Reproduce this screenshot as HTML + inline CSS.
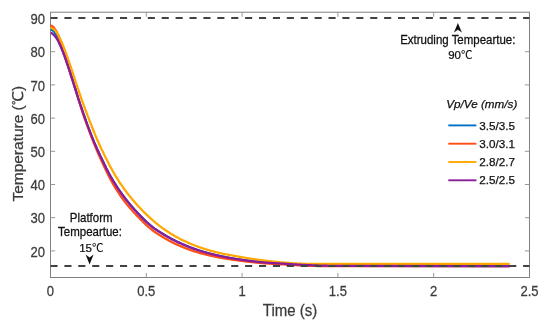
<!DOCTYPE html>
<html><head><meta charset="utf-8"><title>Temperature vs Time</title>
<style>
html,body{margin:0;padding:0;background:#fff;}
svg{display:block}
text{font-family:"Liberation Sans", "WenQuanYi Zen Hei", "Noto Sans CJK SC", sans-serif;}
.tk{font-size:13.6px;fill:#3c3c3c;stroke:#3c3c3c;stroke-width:0.25px;}
.lb{font-size:14.3px;fill:#3c3c3c;stroke:#3c3c3c;stroke-width:0.25px;}
.dc{stroke-width:0.1px;}
.an{font-family:"Liberation Sans", "Noto Sans CJK SC", sans-serif;font-size:11.5px;fill:#111;stroke:#111;stroke-width:0.25px;}
</style></head><body>
<svg width="550" height="328" viewBox="0 0 550 328">
<rect width="550" height="328" fill="#fff"/>
<rect x="50.5" y="12.2" width="479.0" height="265.3" fill="none" stroke="#808080" stroke-width="1"/>
<path d="M146.3,277.5 v-4.6 M146.3,12.2 v4.6 M242.1,277.5 v-4.6 M242.1,12.2 v4.6 M337.9,277.5 v-4.6 M337.9,12.2 v4.6 M433.7,277.5 v-4.6 M433.7,12.2 v4.6 M50.5,250.9 h4.6 M529.5,250.9 h-4.6 M50.5,217.7 h4.6 M529.5,217.7 h-4.6 M50.5,184.5 h4.6 M529.5,184.5 h-4.6 M50.5,151.3 h4.6 M529.5,151.3 h-4.6 M50.5,118.1 h4.6 M529.5,118.1 h-4.6 M50.5,84.9 h4.6 M529.5,84.9 h-4.6 M50.5,51.7 h4.6 M529.5,51.7 h-4.6 M50.5,18.5 h4.6 M529.5,18.5 h-4.6" stroke="#8c8c8c" stroke-width="0.9" fill="none"/>
<text class="tk" transform="translate(50.5,295.8) scale(0.96,1.1)" text-anchor="middle">0</text>
<text class="tk" transform="translate(146.3,295.8) scale(0.96,1.1)" text-anchor="middle">0.5</text>
<text class="tk" transform="translate(242.1,295.8) scale(0.96,1.1)" text-anchor="middle">1</text>
<text class="tk" transform="translate(337.9,295.8) scale(0.96,1.1)" text-anchor="middle">1.5</text>
<text class="tk" transform="translate(433.7,295.8) scale(0.96,1.1)" text-anchor="middle">2</text>
<text class="tk" transform="translate(529.5,295.8) scale(0.96,1.1)" text-anchor="middle">2.5</text>
<text class="tk" transform="translate(45.0,256.5) scale(0.96,1.1)" text-anchor="end">20</text>
<text class="tk" transform="translate(45.0,223.3) scale(0.96,1.1)" text-anchor="end">30</text>
<text class="tk" transform="translate(45.0,190.1) scale(0.96,1.1)" text-anchor="end">40</text>
<text class="tk" transform="translate(45.0,156.9) scale(0.96,1.1)" text-anchor="end">50</text>
<text class="tk" transform="translate(45.0,123.7) scale(0.96,1.1)" text-anchor="end">60</text>
<text class="tk" transform="translate(45.0,90.5) scale(0.96,1.1)" text-anchor="end">70</text>
<text class="tk" transform="translate(45.0,57.3) scale(0.96,1.1)" text-anchor="end">80</text>
<text class="tk" transform="translate(45.0,24.1) scale(0.96,1.1)" text-anchor="end">90</text>
<text class="lb" transform="translate(290,315.6) scale(1,1.04)" style="font-size:15px" text-anchor="middle">Time (s)</text>
<text class="lb" transform="translate(23.2,143.7) rotate(-90) scale(1.047,1)" style="font-size:14.8px" text-anchor="middle">Temperature (℃)</text>
<path d="M50.8,29.49 L51.3,29.68 L51.8,29.94 L52.4,30.26 L52.9,30.64 L53.4,31.08 L54.0,31.58 L54.5,32.29 L55.0,33.06 L55.6,33.89 L56.1,34.81 L56.6,36.01 L57.2,37.25 L57.7,38.53 L58.2,39.80 L58.7,41.07 L59.2,42.38 L59.7,43.72 L60.2,45.02 L60.7,46.21 L61.2,47.43 L61.7,48.69 L62.2,49.94 L62.7,51.18 L63.2,52.44 L63.7,53.73 L64.2,55.04 L64.7,56.38 L65.2,57.73 L65.7,59.11 L66.1,60.50 L66.6,61.91 L67.1,63.34 L67.6,64.78 L68.1,66.23 L68.5,67.69 L69.0,69.17 L69.5,70.65 L70.0,72.15 L70.5,73.65 L70.9,75.15 L71.4,76.67 L71.9,78.19 L72.4,79.71 L72.9,81.23 L73.4,82.76 L73.8,84.29 L74.3,85.82 L74.8,87.35 L75.3,88.88 L75.8,90.41 L76.2,91.93 L76.7,93.46 L77.2,94.98 L77.7,96.49 L78.1,98.01 L78.6,99.51 L79.1,101.02 L79.6,102.51 L80.1,104.01 L80.6,105.49 L81.1,106.97 L81.6,108.44 L82.1,109.90 L82.6,111.36 L83.1,112.80 L83.6,114.24 L84.1,115.67 L84.6,117.09 L85.1,118.50 L85.6,119.91 L86.1,121.30 L86.6,122.68 L87.1,124.05 L87.6,125.42 L88.1,126.77 L88.6,128.11 L89.1,129.44 L89.6,130.76 L90.1,132.08 L90.6,133.37 L91.1,134.66 L91.6,135.94 L92.1,137.21 L92.6,138.46 L93.1,139.71 L93.6,140.94 L94.1,142.16 L94.7,143.38 L95.2,144.58 L95.7,145.76 L96.2,146.94 L96.7,148.11 L97.2,149.26 L97.8,150.41 L98.3,151.54 L98.8,152.67 L99.3,153.78 L99.8,154.88 L100.3,155.97 L100.9,157.05 L101.4,158.11 L101.9,159.17 L102.4,160.22 L102.9,161.26 L103.4,162.28 L103.8,163.30 L104.3,164.30 L104.8,165.30 L105.3,166.28 L105.8,167.26 L106.2,168.22 L106.7,169.17 L107.2,170.12 L107.7,171.05 L108.2,171.98 L108.6,172.89 L109.1,173.80 L109.6,174.70 L110.1,175.58 L110.6,176.46 L111.1,177.33 L111.6,178.19 L112.1,179.04 L112.6,179.88 L113.1,180.72 L113.6,181.54 L114.1,182.36 L114.6,183.17 L115.1,183.97 L115.6,184.76 L116.1,185.54 L116.6,186.31 L117.1,187.08 L117.6,187.84 L118.1,188.59 L118.6,189.33 L119.1,190.07 L119.6,190.79 L120.1,191.51 L120.6,192.23 L121.1,192.93 L121.6,193.63 L122.1,194.32 L122.6,195.01 L123.1,195.68 L123.6,196.35 L124.1,197.02 L124.6,197.67 L125.1,198.32 L125.6,198.97 L126.1,199.60 L126.6,200.24 L127.1,200.86 L127.6,201.48 L128.1,202.09 L128.6,202.71 L129.1,203.33 L129.6,203.94 L130.1,204.54 L130.6,205.14 L131.1,205.73 L131.6,206.31 L132.1,206.89 L132.6,207.47 L133.1,208.04 L133.6,208.60 L134.1,209.16 L134.6,209.71 L135.1,210.26 L135.6,210.80 L136.1,211.34 L136.6,211.87 L137.1,212.40 L137.6,212.93 L138.1,213.45 L138.6,213.99 L139.1,214.53 L139.6,215.06 L140.1,215.59 L140.6,216.11 L141.1,216.63 L141.6,217.15 L142.1,217.66 L142.6,218.16 L143.1,218.66 L143.6,219.16 L144.1,219.65 L144.6,220.14 L145.1,220.63 L145.6,221.11 L146.1,221.58 L146.6,222.03 L147.1,222.47 L147.6,222.92 L148.1,223.35 L148.6,223.79 L149.1,224.22 L149.6,224.65 L150.1,225.07 L150.6,225.49 L151.1,225.90 L151.6,226.32 L152.1,226.73 L152.6,227.13 L153.1,227.52 L153.6,227.88 L154.1,228.23 L154.6,228.59 L155.1,228.93 L155.6,229.28 L156.1,229.62 L156.6,229.95 L157.1,230.29 L157.6,230.62 L158.1,230.94 L158.6,231.27 L159.1,231.59 L159.6,231.91 L160.1,232.22 L160.6,232.53 L161.1,232.84 L161.6,233.15 L162.1,233.45 L162.6,233.75 L163.1,234.05 L163.6,234.36 L164.1,234.67 L164.6,234.97 L165.1,235.27 L165.6,235.57 L166.1,235.86 L166.6,236.15 L167.1,236.44 L167.6,236.73 L168.1,237.01 L168.6,237.29 L169.1,237.57 L169.6,237.85 L170.1,238.12 L170.6,238.39 L171.1,238.66 L171.6,238.93 L172.1,239.19 L172.6,239.45 L173.1,239.71 L173.6,239.97 L174.1,240.22 L174.6,240.47 L175.1,240.72 L175.6,240.97 L176.1,241.21 L176.6,241.45 L177.1,241.69 L177.6,241.93 L178.1,242.17 L178.6,242.40 L179.1,242.63 L179.6,242.86 L180.1,243.09 L180.6,243.32 L181.1,243.55 L181.6,243.77 L182.1,244.00 L182.6,244.22 L183.1,244.44 L183.6,244.65 L184.1,244.87 L184.6,245.08 L185.1,245.29 L185.6,245.50 L186.1,245.71 L186.6,245.92 L187.1,246.12 L187.6,246.32 L188.1,246.52 L188.6,246.72 L189.1,246.92 L189.6,247.11 L190.1,247.30 L190.6,247.49 L191.1,247.68 L191.6,247.87 L192.1,248.05 L192.6,248.24 L193.1,248.42 L193.6,248.60 L194.1,248.78 L194.6,248.95 L195.1,249.13 L195.6,249.30 L196.1,249.47 L196.6,249.64 L197.1,249.81 L197.6,249.98 L198.1,250.14 L198.6,250.31 L199.1,250.47 L199.6,250.63 L200.1,250.79 L200.6,250.95 L201.1,251.10 L201.6,251.26 L202.1,251.41 L202.6,251.56 L203.1,251.71 L203.6,251.86 L204.1,252.01 L204.6,252.15 L205.1,252.30 L205.6,252.44 L206.1,252.58 L206.6,252.72 L207.1,252.86 L207.6,253.00 L208.1,253.13 L208.6,253.27 L209.1,253.40 L209.6,253.53 L210.1,253.66 L210.6,253.79 L211.1,253.92 L211.6,254.05 L212.1,254.17 L212.6,254.30 L213.1,254.42 L213.6,254.54 L214.1,254.67 L214.6,254.79 L215.1,254.90 L215.6,255.02 L216.1,255.14 L216.6,255.25 L217.1,255.37 L217.6,255.48 L218.1,255.59 L218.6,255.70 L219.1,255.81 L219.6,255.92 L220.1,256.03 L220.6,256.14 L221.1,256.24 L221.6,256.35 L222.1,256.45 L222.6,256.56 L223.1,256.66 L223.6,256.76 L224.1,256.86 L224.6,256.96 L225.1,257.06 L225.6,257.15 L226.1,257.25 L226.6,257.34 L227.1,257.44 L227.6,257.53 L228.1,257.62 L228.6,257.72 L229.1,257.81 L229.6,257.90 L230.1,257.99 L230.6,258.07 L231.1,258.16 L231.6,258.25 L232.1,258.34 L232.6,258.42 L233.1,258.50 L233.6,258.59 L234.1,258.67 L234.6,258.75 L235.1,258.83 L235.6,258.92 L236.1,259.00 L236.6,259.07 L237.1,259.15 L237.6,259.23 L238.1,259.31 L238.6,259.38 L239.1,259.46 L239.6,259.53 L240.1,259.61 L240.6,259.68 L241.1,259.76 L241.6,259.83 L242.1,259.90 L242.6,259.97 L243.1,260.04 L243.6,260.11 L244.1,260.18 L244.6,260.25 L245.1,260.32 L245.6,260.38 L246.1,260.45 L246.6,260.52 L247.1,260.58 L247.6,260.65 L248.1,260.71 L248.6,260.78 L249.1,260.84 L249.6,260.90 L250.1,260.97 L250.6,261.03 L251.1,261.09 L251.6,261.15 L252.1,261.21 L252.6,261.27 L253.1,261.33 L253.6,261.39 L254.1,261.45 L254.6,261.51 L255.1,261.57 L255.6,261.62 L256.1,261.68 L256.6,261.74 L257.1,261.79 L257.6,261.85 L258.1,261.90 L258.6,261.96 L259.1,262.01 L259.6,262.06 L260.1,262.12 L260.6,262.17 L261.1,262.22 L261.6,262.27 L262.1,262.32 L262.6,262.36 L263.1,262.40 L263.6,262.44 L264.1,262.47 L264.6,262.51 L265.1,262.55 L265.6,262.58 L266.1,262.62 L266.6,262.66 L267.1,262.69 L267.6,262.73 L268.1,262.76 L268.6,262.79 L269.1,262.83 L269.6,262.86 L270.1,262.90 L270.6,262.93 L271.1,262.96 L271.6,262.99 L272.1,263.02 L272.6,263.06 L273.1,263.09 L273.6,263.12 L274.1,263.15 L274.6,263.18 L275.1,263.21 L275.6,263.24 L276.1,263.27 L276.6,263.29 L277.1,263.32 L277.6,263.35 L278.1,263.38 L278.6,263.41 L279.1,263.43 L279.6,263.46 L280.1,263.49 L280.6,263.51 L281.1,263.54 L281.6,263.56 L282.1,263.59 L282.6,263.61 L283.1,263.64 L283.6,263.66 L284.1,263.69 L284.6,263.71 L285.1,263.74 L285.6,263.77 L286.1,263.81 L286.6,263.84 L287.1,263.88 L287.6,263.91 L288.1,263.95 L288.6,263.98 L289.1,264.02 L289.6,264.05 L290.1,264.09 L290.6,264.12 L291.1,264.15 L291.6,264.18 L292.1,264.22 L292.6,264.25 L293.1,264.28 L293.6,264.31 L294.1,264.34 L294.6,264.37 L295.1,264.40 L295.6,264.43 L296.1,264.46 L296.6,264.49 L297.1,264.52 L297.6,264.55 L298.1,264.58 L298.6,264.61 L299.1,264.64 L299.6,264.67 L300.1,264.69 L300.6,264.72 L301.1,264.75 L301.6,264.78 L302.1,264.80 L302.6,264.83 L303.1,264.85 L303.6,264.88 L304.1,264.90 L304.6,264.93 L305.1,264.95 L305.6,264.98 L306.1,265.00 L306.6,265.03 L307.1,265.05 L307.6,265.07 L308.1,265.10 L308.6,265.12 L309.1,265.14 L309.6,265.16 L310.1,265.19 L310.6,265.21 L311.1,265.23 L311.6,265.25 L312.1,265.27 L312.6,265.29 L313.1,265.31 L313.6,265.33 L314.1,265.35 L314.6,265.37 L315.1,265.39 L315.6,265.41 L316.1,265.42 L316.6,265.44 L317.1,265.46 L317.6,265.48 L318.1,265.49 L318.6,265.51 L319.1,265.53 L319.6,265.54 L320.1,265.56 L320.6,265.57 L321.1,265.59 L321.6,265.60 L322.1,265.62 L322.6,265.63 L323.1,265.64 L323.6,265.66 L324.1,265.67 L324.6,265.68 L325.1,265.70 L325.6,265.71 L326.1,265.72 L326.6,265.73 L327.1,265.74 L327.6,265.75 L328.1,265.76 L328.6,265.77 L329.1,265.78 L329.6,265.79 L330.1,265.80 L330.6,265.81 L331.1,265.82 L331.6,265.83 L332.1,265.83 L332.6,265.84 L333.1,265.85 L333.6,265.85 L334.1,265.86 L334.6,265.86 L335.1,265.87 L335.6,265.87 L336.1,265.88 L336.6,265.88 L337.1,265.88 L337.6,265.89 L338.1,265.89 L338.6,265.89 L339.1,265.89 L339.6,265.89 L340.1,265.89 L340.6,265.89 L341.1,265.89 L341.6,265.89 L342.1,265.89 L342.6,265.89 L343.1,265.89 L343.6,265.89 L344.1,265.89 L344.6,265.89 L345.0,265.89 L509.8,266.00" fill="none" stroke="#0072C8" stroke-width="2.25" stroke-linejoin="round"/>
<path d="M50.6,25.50 L51.1,25.60 L51.6,25.79 L52.1,26.06 L52.6,26.42 L53.1,26.85 L53.6,27.35 L54.1,27.93 L54.6,28.58 L55.1,29.30 L55.6,30.09 L56.1,30.93 L56.6,31.84 L57.1,32.80 L57.6,33.82 L58.1,34.89 L58.6,36.01 L59.1,37.18 L59.5,38.39 L59.9,39.64 L60.2,40.94 L60.5,42.27 L60.8,43.64 L61.1,45.05 L61.5,46.48 L62.0,47.95 L62.4,49.44 L62.8,50.96 L63.2,52.50 L63.8,54.06 L64.4,55.65 L64.9,57.25 L65.5,58.87 L66.1,60.50 L66.6,62.15 L67.2,63.81 L67.8,65.48 L68.3,67.15 L68.9,68.84 L69.5,70.53 L70.0,72.23 L70.6,73.94 L71.1,75.64 L71.7,77.35 L72.2,79.06 L72.7,80.76 L73.3,82.47 L73.8,84.18 L74.4,85.88 L74.9,87.58 L75.4,89.27 L75.9,90.96 L76.5,92.65 L77.0,94.32 L77.5,95.99 L78.0,97.65 L78.5,99.31 L79.0,100.95 L79.5,102.59 L80.0,104.22 L80.5,105.83 L81.0,107.44 L81.5,109.04 L82.0,110.62 L82.5,112.19 L83.0,113.75 L83.6,115.30 L84.1,116.84 L84.6,118.37 L85.2,119.88 L85.7,121.38 L86.2,122.86 L86.7,124.34 L87.3,125.80 L87.8,127.25 L88.3,128.68 L88.9,130.10 L89.4,131.51 L89.9,132.90 L90.4,134.28 L90.9,135.65 L91.4,137.00 L92.0,138.34 L92.5,139.66 L93.0,140.97 L93.5,142.27 L94.0,143.56 L94.6,144.83 L95.1,146.08 L95.6,147.33 L96.1,148.56 L96.6,149.78 L97.1,150.98 L97.6,152.17 L98.1,153.35 L98.6,154.52 L99.1,155.67 L99.6,156.81 L100.2,157.94 L100.7,159.06 L101.2,160.16 L101.7,161.25 L102.2,162.33 L102.7,163.40 L103.2,164.45 L103.7,165.49 L104.2,166.53 L104.6,167.55 L105.1,168.55 L105.6,169.55 L106.0,170.54 L106.5,171.51 L107.0,172.48 L107.5,173.43 L107.9,174.37 L108.4,175.31 L108.9,176.23 L109.3,177.14 L109.8,178.04 L110.3,178.94 L110.7,179.82 L111.2,180.69 L111.7,181.55 L112.2,182.41 L112.6,183.25 L113.1,184.09 L113.6,184.91 L114.1,185.73 L114.5,186.54 L115.0,187.34 L115.5,188.13 L116.0,188.91 L116.5,189.68 L117.0,190.45 L117.4,191.21 L117.9,191.96 L118.4,192.70 L118.9,193.43 L119.4,194.16 L119.9,194.88 L120.3,195.59 L120.8,196.29 L121.3,196.99 L121.8,197.68 L122.3,198.36 L122.8,199.03 L123.3,199.70 L123.7,200.36 L124.2,201.02 L124.7,201.66 L125.2,202.30 L125.7,202.94 L126.2,203.57 L126.7,204.19 L127.3,204.81 L127.8,205.42 L128.3,206.04 L128.8,206.65 L129.3,207.26 L129.8,207.86 L130.3,208.45 L130.9,209.04 L131.4,209.63 L131.9,210.20 L132.4,210.78 L132.9,211.34 L133.4,211.91 L133.9,212.46 L134.4,213.01 L135.0,213.56 L135.5,214.10 L136.0,214.64 L136.5,215.17 L137.0,215.70 L137.5,216.22 L138.0,216.74 L138.5,217.28 L139.1,217.82 L139.6,218.35 L140.1,218.87 L140.6,219.40 L141.1,219.91 L141.6,220.43 L142.1,220.93 L142.6,221.44 L143.1,221.94 L143.6,222.43 L144.1,222.93 L144.6,223.41 L145.1,223.90 L145.6,224.38 L146.1,224.85 L146.6,225.29 L147.1,225.74 L147.6,226.18 L148.1,226.62 L148.6,227.05 L149.1,227.48 L149.6,227.90 L150.1,228.32 L150.6,228.74 L151.1,229.16 L151.6,229.57 L152.1,229.97 L152.6,230.37 L153.1,230.77 L153.6,231.12 L154.1,231.47 L154.6,231.82 L155.1,232.16 L155.6,232.50 L156.1,232.84 L156.6,233.17 L157.1,233.50 L157.6,233.83 L158.1,234.15 L158.6,234.47 L159.1,234.79 L159.6,235.10 L160.1,235.41 L160.6,235.72 L161.1,236.03 L161.6,236.33 L162.1,236.62 L162.6,236.92 L163.1,237.21 L163.6,237.52 L164.1,237.82 L164.6,238.11 L165.1,238.41 L165.6,238.70 L166.1,238.99 L166.6,239.27 L167.1,239.55 L167.6,239.83 L168.1,240.11 L168.6,240.38 L169.1,240.65 L169.6,240.92 L170.1,241.19 L170.6,241.45 L171.1,241.71 L171.6,241.97 L172.1,242.22 L172.6,242.47 L173.1,242.72 L173.6,242.97 L174.1,243.21 L174.6,243.46 L175.1,243.69 L175.6,243.93 L176.1,244.17 L176.6,244.40 L177.1,244.63 L177.6,244.85 L178.1,245.08 L178.6,245.30 L179.1,245.52 L179.6,245.74 L180.1,245.95 L180.6,246.17 L181.1,246.38 L181.6,246.60 L182.1,246.81 L182.6,247.02 L183.1,247.22 L183.6,247.43 L184.1,247.63 L184.6,247.83 L185.1,248.03 L185.6,248.22 L186.1,248.42 L186.6,248.61 L187.1,248.80 L187.6,248.99 L188.1,249.17 L188.6,249.35 L189.1,249.54 L189.6,249.72 L190.1,249.89 L190.6,250.07 L191.1,250.24 L191.6,250.41 L192.1,250.58 L192.6,250.75 L193.1,250.92 L193.6,251.08 L194.1,251.24 L194.6,251.41 L195.1,251.56 L195.6,251.72 L196.1,251.88 L196.6,252.03 L197.1,252.18 L197.6,252.33 L198.1,252.48 L198.6,252.63 L199.1,252.77 L199.6,252.92 L200.1,253.06 L200.6,253.20 L201.1,253.34 L201.6,253.48 L202.1,253.62 L202.6,253.75 L203.1,253.88 L203.6,254.01 L204.1,254.15 L204.6,254.27 L205.1,254.40 L205.6,254.53 L206.1,254.65 L206.6,254.78 L207.1,254.90 L207.6,255.02 L208.1,255.14 L208.6,255.26 L209.1,255.37 L209.6,255.49 L210.1,255.60 L210.6,255.72 L211.1,255.83 L211.6,255.94 L212.1,256.05 L212.6,256.16 L213.1,256.26 L213.6,256.37 L214.1,256.47 L214.6,256.58 L215.1,256.68 L215.6,256.78 L216.1,256.88 L216.6,256.98 L217.1,257.08 L217.6,257.18 L218.1,257.28 L218.6,257.37 L219.1,257.47 L219.6,257.56 L220.1,257.65 L220.6,257.74 L221.1,257.83 L221.6,257.92 L222.1,258.01 L222.6,258.10 L223.1,258.19 L223.6,258.27 L224.1,258.36 L224.6,258.44 L225.1,258.53 L225.6,258.61 L226.1,258.69 L226.6,258.78 L227.1,258.86 L227.6,258.94 L228.1,259.02 L228.6,259.09 L229.1,259.17 L229.6,259.25 L230.1,259.33 L230.6,259.40 L231.1,259.48 L231.6,259.55 L232.1,259.62 L232.6,259.70 L233.1,259.77 L233.6,259.84 L234.1,259.91 L234.6,259.98 L235.1,260.05 L235.6,260.12 L236.1,260.19 L236.6,260.26 L237.1,260.33 L237.6,260.40 L238.1,260.46 L238.6,260.53 L239.1,260.59 L239.6,260.66 L240.1,260.72 L240.6,260.79 L241.1,260.85 L241.6,260.91 L242.1,260.98 L242.6,261.04 L243.1,261.10 L243.6,261.16 L244.1,261.22 L244.6,261.28 L245.1,261.34 L245.6,261.40 L246.1,261.46 L246.6,261.52 L247.1,261.58 L247.6,261.64 L248.1,261.70 L248.6,261.75 L249.1,261.81 L249.6,261.87 L250.1,261.92 L250.6,261.98 L251.1,262.03 L251.6,262.09 L252.1,262.14 L252.6,262.20 L253.1,262.25 L253.6,262.31 L254.1,262.36 L254.6,262.41 L255.1,262.46 L255.6,262.52 L256.1,262.57 L256.6,262.62 L257.1,262.67 L257.6,262.72 L258.1,262.77 L258.6,262.83 L259.1,262.88 L259.6,262.93 L260.1,262.97 L260.6,263.02 L261.1,263.07 L261.6,263.12 L262.1,263.17 L262.6,263.20 L263.1,263.24 L263.6,263.27 L264.1,263.31 L264.6,263.34 L265.1,263.38 L265.6,263.41 L266.1,263.45 L266.6,263.48 L267.1,263.51 L267.6,263.55 L268.1,263.58 L268.6,263.61 L269.1,263.64 L269.6,263.68 L270.1,263.71 L270.6,263.74 L271.1,263.77 L271.6,263.80 L272.1,263.83 L272.6,263.86 L273.1,263.89 L273.6,263.92 L274.1,263.95 L274.6,263.98 L275.1,264.01 L275.6,264.03 L276.1,264.06 L276.6,264.09 L277.1,264.12 L277.6,264.15 L278.1,264.17 L278.6,264.20 L279.1,264.23 L279.6,264.25 L280.1,264.28 L280.6,264.30 L281.1,264.33 L281.6,264.35 L282.1,264.38 L282.6,264.40 L283.1,264.42 L283.6,264.45 L284.1,264.47 L284.6,264.49 L285.1,264.52 L285.6,264.55 L286.1,264.59 L286.6,264.62 L287.1,264.66 L287.6,264.69 L288.1,264.73 L288.6,264.76 L289.1,264.79 L289.6,264.82 L290.1,264.86 L290.6,264.89 L291.1,264.92 L291.6,264.95 L292.1,264.98 L292.6,265.01 L293.1,265.04 L293.6,265.07 L294.1,265.10 L294.6,265.13 L295.1,265.16 L295.6,265.18 L296.1,265.21 L296.6,265.24 L297.1,265.27 L297.6,265.29 L298.1,265.32 L298.6,265.35 L299.1,265.37 L299.6,265.40 L300.1,265.42 L300.6,265.44 L301.1,265.47 L301.6,265.49 L302.1,265.51 L302.6,265.54 L303.1,265.56 L303.6,265.58 L304.1,265.60 L304.6,265.62 L305.1,265.64 L305.6,265.67 L306.1,265.68 L306.6,265.70 L307.1,265.72 L307.6,265.74 L308.1,265.76 L308.6,265.78 L309.1,265.80 L309.6,265.81 L310.1,265.83 L310.6,265.84 L311.1,265.86 L311.6,265.88 L312.1,265.89 L312.6,265.90 L313.1,265.92 L313.6,265.93 L314.1,265.94 L314.6,265.96 L315.1,265.97 L315.6,265.98 L316.1,265.99 L316.6,266.00 L317.1,266.00 L317.6,266.00 L318.1,266.00 L318.6,266.00 L319.1,266.00 L319.6,266.00 L320.1,266.00 L320.6,266.00 L321.1,266.00 L321.6,266.00 L322.1,266.00 L322.6,266.00 L323.1,266.00 L323.6,266.00 L324.1,266.00 L324.6,266.00 L325.1,266.00 L325.6,266.00 L326.1,266.00 L326.6,266.00 L327.1,266.00 L327.6,266.00 L328.1,266.00 L328.6,266.00 L329.1,266.00 L329.6,266.00 L330.1,266.00 L330.6,266.00 L331.1,266.00 L331.6,266.00 L332.1,266.00 L332.6,266.00 L333.1,266.00 L333.6,266.00 L334.1,266.00 L334.6,266.00 L335.1,266.00 L335.6,266.00 L336.1,266.00 L336.6,266.00 L337.1,266.00 L337.6,266.00 L338.1,266.00 L338.6,266.00 L339.1,266.00 L339.6,266.00 L340.0,266.00 L509.8,266.00" fill="none" stroke="#FF4D14" stroke-width="2.25" stroke-linejoin="round"/>
<path d="M50.6,27.90 L51.1,27.91 L51.6,28.00 L52.1,28.16 L52.6,28.38 L53.1,28.68 L53.6,29.04 L54.1,29.47 L54.6,29.95 L55.1,30.50 L55.6,31.10 L56.1,31.76 L56.6,32.48 L57.1,33.24 L57.6,34.05 L58.1,34.91 L58.6,35.82 L59.1,36.76 L59.6,37.75 L60.1,38.78 L60.6,39.85 L61.1,40.95 L61.6,42.08 L62.1,43.25 L62.6,44.45 L63.1,45.67 L63.6,46.93 L64.1,48.21 L64.6,49.51 L65.1,50.83 L65.6,52.18 L66.1,53.54 L66.6,54.92 L67.1,56.32 L67.6,57.73 L68.1,59.16 L68.6,60.60 L69.1,62.05 L69.6,63.52 L70.1,64.99 L70.6,66.47 L71.1,67.95 L71.6,69.44 L72.1,70.94 L72.6,72.44 L73.1,73.95 L73.6,75.46 L74.1,76.97 L74.6,78.48 L75.1,79.99 L75.6,81.50 L76.1,83.01 L76.6,84.51 L77.1,86.02 L77.6,87.52 L78.1,89.01 L78.6,90.51 L79.1,92.00 L79.6,93.48 L80.1,94.96 L80.6,96.43 L81.1,97.90 L81.6,99.36 L82.1,100.81 L82.6,102.25 L83.2,103.69 L83.7,105.12 L84.2,106.54 L84.7,107.95 L85.2,109.35 L85.8,110.75 L86.3,112.13 L86.8,113.51 L87.3,114.87 L87.8,116.23 L88.4,117.57 L88.9,118.91 L89.4,120.24 L89.9,121.55 L90.4,122.86 L90.9,124.15 L91.4,125.44 L91.9,126.71 L92.4,127.98 L92.9,129.23 L93.4,130.47 L93.9,131.71 L94.4,132.93 L94.9,134.14 L95.4,135.34 L95.9,136.53 L96.4,137.71 L96.9,138.88 L97.4,140.03 L97.9,141.18 L98.4,142.32 L98.9,143.45 L99.4,144.56 L99.9,145.67 L100.4,146.76 L100.9,147.85 L101.4,148.92 L101.9,149.99 L102.5,151.04 L103.0,152.09 L103.5,153.12 L104.0,154.15 L104.5,155.16 L105.0,156.17 L105.5,157.17 L106.0,158.15 L106.5,159.13 L107.0,160.10 L107.5,161.06 L107.9,162.01 L108.4,162.95 L108.9,163.88 L109.4,164.80 L109.8,165.71 L110.3,166.62 L110.8,167.52 L111.3,168.40 L111.8,169.28 L112.2,170.15 L112.7,171.02 L113.2,171.87 L113.7,172.72 L114.1,173.56 L114.6,174.39 L115.1,175.21 L115.6,176.02 L116.1,176.83 L116.6,177.63 L117.1,178.42 L117.6,179.21 L118.1,179.99 L118.6,180.76 L119.1,181.52 L119.6,182.28 L120.1,183.02 L120.6,183.77 L121.1,184.50 L121.6,185.23 L122.1,185.95 L122.6,186.67 L123.1,187.38 L123.6,188.08 L124.1,188.78 L124.6,189.47 L125.1,190.15 L125.6,190.83 L126.1,191.50 L126.6,192.16 L127.1,192.82 L127.6,193.48 L128.1,194.12 L128.6,194.77 L129.1,195.40 L129.6,196.03 L130.1,196.66 L130.6,197.28 L131.1,197.89 L131.6,198.50 L132.1,199.10 L132.6,199.70 L133.1,200.29 L133.6,200.88 L134.1,201.46 L134.6,202.04 L135.1,202.61 L135.6,203.18 L136.1,203.74 L136.6,204.30 L137.1,204.85 L137.6,205.40 L138.1,205.95 L138.6,206.48 L139.1,207.02 L139.6,207.55 L140.1,208.07 L140.6,208.61 L141.1,209.13 L141.6,209.65 L142.1,210.17 L142.6,210.68 L143.1,211.19 L143.6,211.70 L144.1,212.20 L144.6,212.69 L145.1,213.18 L145.6,213.67 L146.1,214.16 L146.6,214.64 L147.1,215.11 L147.6,215.58 L148.1,216.05 L148.6,216.51 L149.1,216.97 L149.6,217.43 L150.1,217.88 L150.6,218.34 L151.1,218.79 L151.6,219.24 L152.1,219.68 L152.6,220.12 L153.1,220.56 L153.6,220.99 L154.1,221.42 L154.6,221.85 L155.1,222.27 L155.6,222.69 L156.1,223.10 L156.6,223.52 L157.1,223.92 L157.6,224.33 L158.1,224.73 L158.6,225.13 L159.1,225.52 L159.6,225.92 L160.1,226.30 L160.6,226.69 L161.1,227.07 L161.6,227.45 L162.1,227.82 L162.6,228.18 L163.1,228.54 L163.6,228.89 L164.1,229.24 L164.6,229.58 L165.1,229.93 L165.6,230.27 L166.1,230.60 L166.6,230.94 L167.1,231.27 L167.6,231.60 L168.1,231.92 L168.6,232.25 L169.1,232.56 L169.6,232.88 L170.1,233.19 L170.6,233.51 L171.1,233.81 L171.6,234.12 L172.1,234.42 L172.6,234.72 L173.1,235.02 L173.6,235.31 L174.1,235.60 L174.6,235.89 L175.1,236.18 L175.6,236.46 L176.1,236.74 L176.6,237.02 L177.1,237.30 L177.6,237.57 L178.1,237.84 L178.6,238.11 L179.1,238.38 L179.6,238.64 L180.1,238.90 L180.6,239.16 L181.1,239.41 L181.6,239.66 L182.1,239.90 L182.6,240.15 L183.1,240.39 L183.6,240.63 L184.1,240.87 L184.6,241.11 L185.1,241.34 L185.6,241.57 L186.1,241.80 L186.6,242.03 L187.1,242.25 L187.6,242.47 L188.1,242.69 L188.6,242.91 L189.1,243.13 L189.6,243.34 L190.1,243.55 L190.6,243.77 L191.1,243.97 L191.6,244.18 L192.1,244.38 L192.6,244.59 L193.1,244.79 L193.6,244.98 L194.1,245.18 L194.6,245.37 L195.1,245.57 L195.6,245.76 L196.1,245.95 L196.6,246.13 L197.1,246.32 L197.6,246.50 L198.1,246.68 L198.6,246.86 L199.1,247.04 L199.6,247.22 L200.1,247.39 L200.6,247.57 L201.1,247.74 L201.6,247.91 L202.1,248.08 L202.6,248.24 L203.1,248.41 L203.6,248.57 L204.1,248.73 L204.6,248.89 L205.1,249.05 L205.6,249.21 L206.1,249.37 L206.6,249.52 L207.1,249.67 L207.6,249.83 L208.1,249.98 L208.6,250.13 L209.1,250.27 L209.6,250.42 L210.1,250.56 L210.6,250.71 L211.1,250.85 L211.6,250.99 L212.1,251.13 L212.6,251.27 L213.1,251.40 L213.6,251.54 L214.1,251.68 L214.6,251.81 L215.1,251.94 L215.6,252.06 L216.1,252.18 L216.6,252.29 L217.1,252.41 L217.6,252.53 L218.1,252.64 L218.6,252.75 L219.1,252.87 L219.6,252.98 L220.1,253.09 L220.6,253.20 L221.1,253.30 L221.6,253.41 L222.1,253.52 L222.6,253.62 L223.1,253.73 L223.6,253.83 L224.1,253.93 L224.6,254.03 L225.1,254.13 L225.6,254.23 L226.1,254.33 L226.6,254.43 L227.1,254.52 L227.6,254.62 L228.1,254.71 L228.6,254.81 L229.1,254.90 L229.6,254.99 L230.1,255.08 L230.6,255.18 L231.1,255.27 L231.6,255.35 L232.1,255.44 L232.6,255.53 L233.1,255.62 L233.6,255.70 L234.1,255.79 L234.6,255.87 L235.1,255.96 L235.6,256.06 L236.1,256.15 L236.6,256.24 L237.1,256.34 L237.6,256.43 L238.1,256.52 L238.6,256.62 L239.1,256.71 L239.6,256.80 L240.1,256.89 L240.6,256.98 L241.1,257.06 L241.6,257.15 L242.1,257.24 L242.6,257.32 L243.1,257.41 L243.6,257.50 L244.1,257.58 L244.6,257.67 L245.1,257.75 L245.6,257.83 L246.1,257.91 L246.6,258.00 L247.1,258.08 L247.6,258.16 L248.1,258.24 L248.6,258.32 L249.1,258.40 L249.6,258.48 L250.1,258.55 L250.6,258.63 L251.1,258.71 L251.6,258.78 L252.1,258.86 L252.6,258.94 L253.1,259.01 L253.6,259.08 L254.1,259.16 L254.6,259.23 L255.1,259.30 L255.6,259.38 L256.1,259.45 L256.6,259.52 L257.1,259.59 L257.6,259.66 L258.1,259.73 L258.6,259.80 L259.1,259.87 L259.6,259.93 L260.1,260.00 L260.6,260.07 L261.1,260.14 L261.6,260.20 L262.1,260.27 L262.6,260.33 L263.1,260.39 L263.6,260.45 L264.1,260.52 L264.6,260.58 L265.1,260.64 L265.6,260.70 L266.1,260.76 L266.6,260.81 L267.1,260.87 L267.6,260.93 L268.1,260.99 L268.6,261.04 L269.1,261.10 L269.6,261.16 L270.1,261.21 L270.6,261.27 L271.1,261.32 L271.6,261.37 L272.1,261.43 L272.6,261.48 L273.1,261.53 L273.6,261.58 L274.1,261.64 L274.6,261.69 L275.1,261.74 L275.6,261.79 L276.1,261.83 L276.6,261.88 L277.1,261.93 L277.6,261.98 L278.1,262.03 L278.6,262.07 L279.1,262.12 L279.6,262.16 L280.1,262.21 L280.6,262.25 L281.1,262.30 L281.6,262.34 L282.1,262.38 L282.6,262.42 L283.1,262.47 L283.6,262.51 L284.1,262.55 L284.6,262.59 L285.1,262.63 L285.6,262.67 L286.1,262.71 L286.6,262.75 L287.1,262.79 L287.6,262.83 L288.1,262.87 L288.6,262.90 L289.1,262.94 L289.6,262.98 L290.1,263.02 L290.6,263.05 L291.1,263.09 L291.6,263.12 L292.1,263.16 L292.6,263.19 L293.1,263.22 L293.6,263.26 L294.1,263.29 L294.6,263.32 L295.1,263.35 L295.6,263.38 L296.1,263.41 L296.6,263.44 L297.1,263.47 L297.6,263.50 L298.1,263.53 L298.6,263.56 L299.1,263.58 L299.6,263.61 L300.1,263.64 L300.6,263.66 L301.1,263.69 L301.6,263.71 L302.1,263.74 L302.6,263.76 L303.1,263.78 L303.6,263.80 L304.1,263.83 L304.6,263.85 L305.1,263.87 L305.6,263.89 L306.1,263.90 L306.6,263.90 L307.1,263.90 L307.6,263.90 L308.1,263.90 L308.6,263.90 L309.1,263.90 L309.6,263.90 L310.1,263.90 L310.6,263.90 L311.1,263.90 L311.6,263.90 L312.1,263.90 L312.6,263.90 L313.1,263.90 L313.6,263.90 L314.1,263.90 L314.6,263.90 L315.1,263.90 L315.6,263.90 L316.1,263.90 L316.6,263.90 L317.1,263.90 L317.6,263.90 L318.1,263.90 L318.6,263.90 L319.1,263.90 L319.6,263.90 L320.1,263.90 L320.6,263.90 L321.1,263.90 L321.6,263.90 L322.1,263.90 L322.6,263.90 L323.1,263.90 L323.6,263.90 L324.1,263.90 L324.6,263.90 L325.1,263.90 L325.6,263.90 L326.1,263.90 L326.6,263.90 L327.1,263.90 L327.6,263.90 L328.1,263.90 L328.6,263.90 L329.1,263.90 L329.6,263.90 L330.1,263.90 L330.6,263.90 L331.1,263.90 L331.6,263.90 L332.1,263.90 L332.6,263.90 L333.1,263.90 L333.6,263.90 L334.1,263.90 L334.6,263.90 L335.1,263.90 L335.6,263.90 L336.1,263.90 L336.6,263.90 L337.1,263.90 L337.6,263.90 L338.1,263.90 L338.6,263.90 L339.1,263.90 L339.6,263.90 L340.1,263.90 L340.6,263.90 L341.1,263.90 L341.6,263.90 L342.1,263.90 L342.6,263.90 L343.1,263.90 L343.6,263.90 L344.1,263.90 L344.6,263.90 L345.0,263.90 L509.8,263.90" fill="none" stroke="#FFA800" stroke-width="2.25" stroke-linejoin="round"/>
<path d="M50.8,32.80 L51.3,33.02 L51.8,33.31 L52.4,33.66 L52.9,34.08 L53.4,34.55 L54.0,35.08 L54.5,35.67 L55.0,36.31 L55.6,37.00 L56.1,37.74 L56.6,38.54 L57.2,39.37 L57.7,40.26 L58.2,41.18 L58.7,42.15 L59.2,43.16 L59.7,44.20 L60.2,45.29 L60.7,46.40 L61.2,47.55 L61.7,48.73 L62.2,49.94 L62.7,51.18 L63.2,52.44 L63.7,53.73 L64.2,55.04 L64.7,56.38 L65.2,57.73 L65.7,59.11 L66.1,60.50 L66.6,61.91 L67.1,63.34 L67.6,64.78 L68.1,66.23 L68.5,67.69 L69.0,69.17 L69.5,70.65 L70.0,72.15 L70.5,73.65 L70.9,75.15 L71.4,76.67 L71.9,78.19 L72.4,79.71 L72.9,81.23 L73.4,82.76 L73.8,84.29 L74.3,85.82 L74.8,87.35 L75.3,88.88 L75.8,90.41 L76.2,91.93 L76.7,93.46 L77.2,94.98 L77.7,96.49 L78.1,98.01 L78.6,99.51 L79.1,101.02 L79.6,102.51 L80.1,104.01 L80.6,105.49 L81.1,106.97 L81.6,108.44 L82.1,109.90 L82.6,111.36 L83.1,112.80 L83.6,114.24 L84.1,115.67 L84.6,117.09 L85.1,118.50 L85.6,119.91 L86.1,121.30 L86.6,122.68 L87.1,124.05 L87.6,125.42 L88.1,126.77 L88.6,128.11 L89.1,129.44 L89.6,130.76 L90.1,132.08 L90.6,133.37 L91.1,134.66 L91.6,135.94 L92.1,137.21 L92.6,138.46 L93.1,139.71 L93.6,140.94 L94.1,142.16 L94.7,143.38 L95.2,144.58 L95.7,145.76 L96.2,146.94 L96.7,148.11 L97.2,149.26 L97.8,150.41 L98.3,151.54 L98.8,152.67 L99.3,153.78 L99.8,154.88 L100.3,155.97 L100.9,157.05 L101.4,158.11 L101.9,159.17 L102.4,160.22 L102.9,161.26 L103.4,162.28 L103.8,163.30 L104.3,164.30 L104.8,165.30 L105.3,166.28 L105.8,167.26 L106.2,168.22 L106.7,169.17 L107.2,170.12 L107.7,171.05 L108.2,171.98 L108.6,172.89 L109.1,173.80 L109.6,174.70 L110.1,175.58 L110.6,176.46 L111.1,177.33 L111.6,178.19 L112.1,179.04 L112.6,179.88 L113.1,180.72 L113.6,181.54 L114.1,182.36 L114.6,183.17 L115.1,183.97 L115.6,184.76 L116.1,185.54 L116.6,186.31 L117.1,187.08 L117.6,187.84 L118.1,188.59 L118.6,189.33 L119.1,190.07 L119.6,190.79 L120.1,191.51 L120.6,192.23 L121.1,192.93 L121.6,193.63 L122.1,194.32 L122.6,195.01 L123.1,195.68 L123.6,196.35 L124.1,197.02 L124.6,197.67 L125.1,198.32 L125.6,198.97 L126.1,199.60 L126.6,200.24 L127.1,200.86 L127.6,201.48 L128.1,202.09 L128.6,202.71 L129.1,203.33 L129.6,203.94 L130.1,204.54 L130.6,205.14 L131.1,205.73 L131.6,206.31 L132.1,206.89 L132.6,207.47 L133.1,208.04 L133.6,208.60 L134.1,209.16 L134.6,209.71 L135.1,210.26 L135.6,210.80 L136.1,211.34 L136.6,211.87 L137.1,212.40 L137.6,212.93 L138.1,213.45 L138.6,213.99 L139.1,214.53 L139.6,215.06 L140.1,215.59 L140.6,216.11 L141.1,216.63 L141.6,217.15 L142.1,217.66 L142.6,218.16 L143.1,218.66 L143.6,219.16 L144.1,219.65 L144.6,220.14 L145.1,220.63 L145.6,221.11 L146.1,221.58 L146.6,222.03 L147.1,222.47 L147.6,222.92 L148.1,223.35 L148.6,223.79 L149.1,224.22 L149.6,224.65 L150.1,225.07 L150.6,225.49 L151.1,225.90 L151.6,226.32 L152.1,226.73 L152.6,227.13 L153.1,227.52 L153.6,227.88 L154.1,228.23 L154.6,228.59 L155.1,228.93 L155.6,229.28 L156.1,229.62 L156.6,229.95 L157.1,230.29 L157.6,230.62 L158.1,230.94 L158.6,231.27 L159.1,231.59 L159.6,231.91 L160.1,232.22 L160.6,232.53 L161.1,232.84 L161.6,233.15 L162.1,233.45 L162.6,233.75 L163.1,234.05 L163.6,234.36 L164.1,234.67 L164.6,234.97 L165.1,235.27 L165.6,235.57 L166.1,235.86 L166.6,236.15 L167.1,236.44 L167.6,236.73 L168.1,237.01 L168.6,237.29 L169.1,237.57 L169.6,237.85 L170.1,238.12 L170.6,238.39 L171.1,238.66 L171.6,238.93 L172.1,239.19 L172.6,239.45 L173.1,239.71 L173.6,239.97 L174.1,240.22 L174.6,240.47 L175.1,240.72 L175.6,240.97 L176.1,241.21 L176.6,241.45 L177.1,241.69 L177.6,241.93 L178.1,242.17 L178.6,242.40 L179.1,242.63 L179.6,242.86 L180.1,243.09 L180.6,243.32 L181.1,243.55 L181.6,243.77 L182.1,244.00 L182.6,244.22 L183.1,244.44 L183.6,244.65 L184.1,244.87 L184.6,245.08 L185.1,245.29 L185.6,245.50 L186.1,245.71 L186.6,245.92 L187.1,246.12 L187.6,246.32 L188.1,246.52 L188.6,246.72 L189.1,246.92 L189.6,247.11 L190.1,247.30 L190.6,247.49 L191.1,247.68 L191.6,247.87 L192.1,248.05 L192.6,248.24 L193.1,248.42 L193.6,248.60 L194.1,248.78 L194.6,248.95 L195.1,249.13 L195.6,249.30 L196.1,249.47 L196.6,249.64 L197.1,249.81 L197.6,249.98 L198.1,250.14 L198.6,250.31 L199.1,250.47 L199.6,250.63 L200.1,250.79 L200.6,250.95 L201.1,251.10 L201.6,251.26 L202.1,251.41 L202.6,251.56 L203.1,251.71 L203.6,251.86 L204.1,252.01 L204.6,252.15 L205.1,252.30 L205.6,252.44 L206.1,252.58 L206.6,252.72 L207.1,252.86 L207.6,253.00 L208.1,253.13 L208.6,253.27 L209.1,253.40 L209.6,253.53 L210.1,253.66 L210.6,253.79 L211.1,253.92 L211.6,254.05 L212.1,254.17 L212.6,254.30 L213.1,254.42 L213.6,254.54 L214.1,254.67 L214.6,254.79 L215.1,254.90 L215.6,255.02 L216.1,255.14 L216.6,255.25 L217.1,255.37 L217.6,255.48 L218.1,255.59 L218.6,255.70 L219.1,255.81 L219.6,255.92 L220.1,256.03 L220.6,256.14 L221.1,256.24 L221.6,256.35 L222.1,256.45 L222.6,256.56 L223.1,256.66 L223.6,256.76 L224.1,256.86 L224.6,256.96 L225.1,257.06 L225.6,257.15 L226.1,257.25 L226.6,257.34 L227.1,257.44 L227.6,257.53 L228.1,257.62 L228.6,257.72 L229.1,257.81 L229.6,257.90 L230.1,257.99 L230.6,258.07 L231.1,258.16 L231.6,258.25 L232.1,258.34 L232.6,258.42 L233.1,258.50 L233.6,258.59 L234.1,258.67 L234.6,258.75 L235.1,258.83 L235.6,258.92 L236.1,259.00 L236.6,259.07 L237.1,259.15 L237.6,259.23 L238.1,259.31 L238.6,259.38 L239.1,259.46 L239.6,259.53 L240.1,259.61 L240.6,259.68 L241.1,259.76 L241.6,259.83 L242.1,259.90 L242.6,259.97 L243.1,260.04 L243.6,260.11 L244.1,260.18 L244.6,260.25 L245.1,260.32 L245.6,260.38 L246.1,260.45 L246.6,260.52 L247.1,260.58 L247.6,260.65 L248.1,260.71 L248.6,260.78 L249.1,260.84 L249.6,260.90 L250.1,260.97 L250.6,261.03 L251.1,261.09 L251.6,261.15 L252.1,261.21 L252.6,261.27 L253.1,261.33 L253.6,261.39 L254.1,261.45 L254.6,261.51 L255.1,261.57 L255.6,261.62 L256.1,261.68 L256.6,261.74 L257.1,261.79 L257.6,261.85 L258.1,261.90 L258.6,261.96 L259.1,262.01 L259.6,262.06 L260.1,262.12 L260.6,262.17 L261.1,262.22 L261.6,262.27 L262.1,262.32 L262.6,262.36 L263.1,262.40 L263.6,262.44 L264.1,262.47 L264.6,262.51 L265.1,262.55 L265.6,262.58 L266.1,262.62 L266.6,262.66 L267.1,262.69 L267.6,262.73 L268.1,262.76 L268.6,262.79 L269.1,262.83 L269.6,262.86 L270.1,262.90 L270.6,262.93 L271.1,262.96 L271.6,262.99 L272.1,263.02 L272.6,263.06 L273.1,263.09 L273.6,263.12 L274.1,263.15 L274.6,263.18 L275.1,263.21 L275.6,263.24 L276.1,263.27 L276.6,263.29 L277.1,263.32 L277.6,263.35 L278.1,263.38 L278.6,263.41 L279.1,263.43 L279.6,263.46 L280.1,263.49 L280.6,263.51 L281.1,263.54 L281.6,263.56 L282.1,263.59 L282.6,263.61 L283.1,263.64 L283.6,263.66 L284.1,263.69 L284.6,263.71 L285.1,263.74 L285.6,263.77 L286.1,263.81 L286.6,263.84 L287.1,263.88 L287.6,263.91 L288.1,263.95 L288.6,263.98 L289.1,264.02 L289.6,264.05 L290.1,264.09 L290.6,264.12 L291.1,264.15 L291.6,264.18 L292.1,264.22 L292.6,264.25 L293.1,264.28 L293.6,264.31 L294.1,264.34 L294.6,264.37 L295.1,264.40 L295.6,264.43 L296.1,264.46 L296.6,264.49 L297.1,264.52 L297.6,264.55 L298.1,264.58 L298.6,264.61 L299.1,264.64 L299.6,264.67 L300.1,264.69 L300.6,264.72 L301.1,264.75 L301.6,264.78 L302.1,264.80 L302.6,264.83 L303.1,264.85 L303.6,264.88 L304.1,264.90 L304.6,264.93 L305.1,264.95 L305.6,264.98 L306.1,265.00 L306.6,265.03 L307.1,265.05 L307.6,265.07 L308.1,265.10 L308.6,265.12 L309.1,265.14 L309.6,265.16 L310.1,265.19 L310.6,265.21 L311.1,265.23 L311.6,265.25 L312.1,265.27 L312.6,265.29 L313.1,265.31 L313.6,265.33 L314.1,265.35 L314.6,265.37 L315.1,265.39 L315.6,265.41 L316.1,265.42 L316.6,265.44 L317.1,265.46 L317.6,265.48 L318.1,265.49 L318.6,265.51 L319.1,265.53 L319.6,265.54 L320.1,265.56 L320.6,265.57 L321.1,265.59 L321.6,265.60 L322.1,265.62 L322.6,265.63 L323.1,265.64 L323.6,265.66 L324.1,265.67 L324.6,265.68 L325.1,265.70 L325.6,265.71 L326.1,265.72 L326.6,265.73 L327.1,265.74 L327.6,265.75 L328.1,265.76 L328.6,265.77 L329.1,265.78 L329.6,265.79 L330.1,265.80 L330.6,265.81 L331.1,265.82 L331.6,265.83 L332.1,265.83 L332.6,265.84 L333.1,265.85 L333.6,265.85 L334.1,265.86 L334.6,265.86 L335.1,265.87 L335.6,265.87 L336.1,265.88 L336.6,265.88 L337.1,265.88 L337.6,265.89 L338.1,265.89 L338.6,265.89 L339.1,265.89 L339.6,265.89 L340.1,265.89 L340.6,265.89 L341.1,265.89 L341.6,265.89 L342.1,265.89 L342.6,265.89 L343.1,265.89 L343.6,265.89 L344.1,265.89 L344.6,265.89 L345.0,265.89 L509.8,266.00" fill="none" stroke="#8A1C9C" stroke-width="2.25" stroke-linejoin="round"/>
<path d="M50.5,18.1 H529.5 M50.5,266 H529.5" stroke="#424242" stroke-width="2" stroke-dasharray="7.1 6.8" fill="none"/>
<text class="an" transform="translate(457.8,44.3) scale(1,1.12)" text-anchor="middle">Extruding Tempeartue:</text>
<text class="an" transform="translate(460.3,59.4) scale(1,0.97)" text-anchor="middle">90<tspan class="dc">℃</tspan></text>
<path d="M457.9,23.0 L461.9,32.6 L457.9,29.7 L453.9,32.6 Z" fill="#111"/>
<text class="an" transform="translate(91.2,221.6) scale(1,1.12)" text-anchor="middle">Platform</text>
<text class="an" transform="translate(90,236) scale(1,1.12)" text-anchor="middle">Tempeartue:</text>
<text class="an" transform="translate(91.3,252.4) scale(1,0.97)" text-anchor="middle">15<tspan class="dc">℃</tspan></text>
<path d="M89.6,264.6 L93.6,254.5 L89.6,257.6 L85.6,254.5 Z" fill="#111"/>
<text class="an" x="481.8" y="107.7" text-anchor="middle" style="font-style:italic;font-size:11.7px">Vp/Ve (mm/s)</text>
<path d="M448.3,125.4 H476.4" stroke="#0072C8" stroke-width="1.9" fill="none"/>
<text class="an" x="479.2" y="129.5" style="font-size:11.7px">3.5/3.5</text>
<path d="M448.3,143.7 H476.4" stroke="#FF4D14" stroke-width="1.9" fill="none"/>
<text class="an" x="479.2" y="147.8" style="font-size:11.7px">3.0/3.1</text>
<path d="M448.3,162.0 H476.4" stroke="#FFA800" stroke-width="1.9" fill="none"/>
<text class="an" x="479.2" y="166.1" style="font-size:11.7px">2.8/2.7</text>
<path d="M448.3,180.3 H476.4" stroke="#8A1C9C" stroke-width="1.9" fill="none"/>
<text class="an" x="479.2" y="184.4" style="font-size:11.7px">2.5/2.5</text>
</svg></body></html>
